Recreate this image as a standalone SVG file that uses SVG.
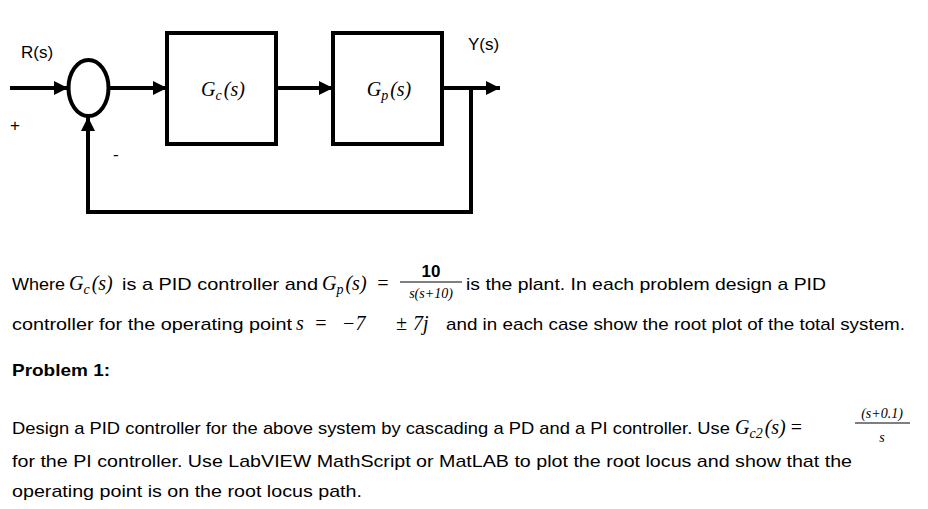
<svg xmlns="http://www.w3.org/2000/svg" width="928" height="509" viewBox="0 0 928 509">
<defs>
<marker id="a" viewBox="0 0 10 10" markerWidth="14" markerHeight="14" refX="10" refY="5" orient="auto" markerUnits="userSpaceOnUse"><path d="M0,0 L10,5 L0,10 Z" fill="#000"/></marker>
</defs>
<style>
.t{font-family:"Liberation Sans",Arial,sans-serif;font-size:17px;fill:#000}
.m{font-family:"Liberation Serif","DejaVu Serif",serif;font-style:italic;font-size:20px;fill:#000}
.f{font-family:"Liberation Serif","DejaVu Serif",serif;font-style:italic;font-size:14px;fill:#000}
.b{fill:#fff;stroke:#000;stroke-width:4}
.l{fill:none;stroke:#000;stroke-width:4}
</style>
<rect width="928" height="509" fill="#fff"/>
<g id="connectors">
<line class="l" x1="10" y1="88" x2="68" y2="88" marker-end="url(#a)"/>
<line class="l" x1="109" y1="88" x2="167" y2="88" marker-end="url(#a)"/>
<line class="l" x1="276" y1="88" x2="333" y2="88" marker-end="url(#a)"/>
<line class="l" x1="442" y1="88" x2="500" y2="88" marker-end="url(#a)"/>
<polyline class="l" points="471,88 471,212 88,212 88,117" marker-end="url(#a)"/>
</g>
<g id="sum"><ellipse class="b" cx="88.5" cy="88" rx="20" ry="28"/></g>
<g id="gc"><rect class="b" x="167" y="33" width="109" height="111"/><text class="m" x="223" y="96" text-anchor="middle">G<tspan font-size="14" dy="4">c</tspan><tspan dy="-4" dx="2">(s)</tspan></text></g>
<g id="gp"><rect class="b" x="333" y="33" width="109" height="111"/><text class="m" x="389" y="96" text-anchor="middle">G<tspan font-size="14" dy="4">p</tspan><tspan dy="-4" dx="2">(s)</tspan></text></g>
<text class="t" x="21" y="58" font-size="16">R(s)</text>
<text class="t" x="468" y="50" font-size="16">Y(s)</text>
<text class="t" x="10" y="131" font-size="16">+</text>
<text class="t" x="113" y="160" font-size="16">-</text>

<text class="t" x="12" y="290" textLength="53" lengthAdjust="spacingAndGlyphs">Where</text>
<text class="m" x="69" y="290">G<tspan font-size="14" dy="4">c</tspan><tspan dy="-4" dx="2">(s)</tspan></text>
<text class="t" x="122" y="290" textLength="196" lengthAdjust="spacingAndGlyphs">is a PID controller and</text>
<text class="m" x="322" y="290">G<tspan font-size="14" dy="4">p</tspan><tspan dy="-4" dx="2">(s)</tspan></text>
<text class="m" x="376" y="290" font-style="normal">=</text>
<text class="t" x="431" y="277" font-size="12" font-weight="bold" text-anchor="middle">10</text>
<line x1="400" y1="282" x2="462" y2="282" stroke="#000" stroke-width="1"/>
<text class="f" x="431" y="298" text-anchor="middle">s(s+10)</text>
<text class="t" x="466" y="290" textLength="360" lengthAdjust="spacingAndGlyphs">is the plant.  In each problem design a PID</text>

<text class="t" x="12" y="330" textLength="280" lengthAdjust="spacingAndGlyphs">controller for the operating point</text>
<text class="m" x="296" y="330">s</text>
<text class="m" x="314" y="330" font-style="normal">=</text>
<text class="m" x="342" y="330" font-style="normal">−7</text>
<text class="m" x="396" y="330" font-style="normal">±</text>
<text class="m" x="413" y="330">7j</text>
<text class="t" x="446" y="330" textLength="459" lengthAdjust="spacingAndGlyphs">and in each case show the root plot of the total system.</text>

<text class="t" x="12" y="376" font-weight="bold" textLength="98" lengthAdjust="spacingAndGlyphs">Problem 1:</text>

<text class="t" x="12" y="434" textLength="718" lengthAdjust="spacingAndGlyphs">Design a PID controller for the above system by cascading a PD and a PI controller.  Use</text>
<text class="m" x="735" y="434">G<tspan font-size="14" dy="4">c2</tspan><tspan dy="-4" dx="2">(s)</tspan><tspan font-style="normal"> =</tspan></text>
<text class="f" x="882" y="418" text-anchor="middle">(s+0.1)</text>
<line x1="855" y1="423" x2="910" y2="423" stroke="#000" stroke-width="1"/>
<text class="f" x="882" y="442" text-anchor="middle">s</text>
<text class="t" x="12" y="467" textLength="840" lengthAdjust="spacingAndGlyphs">for the PI controller.  Use LabVIEW MathScript or MatLAB to plot the root locus and show that the</text>
<text class="t" x="12" y="497" textLength="350" lengthAdjust="spacingAndGlyphs">operating point is on the root locus path.</text>
</svg>
